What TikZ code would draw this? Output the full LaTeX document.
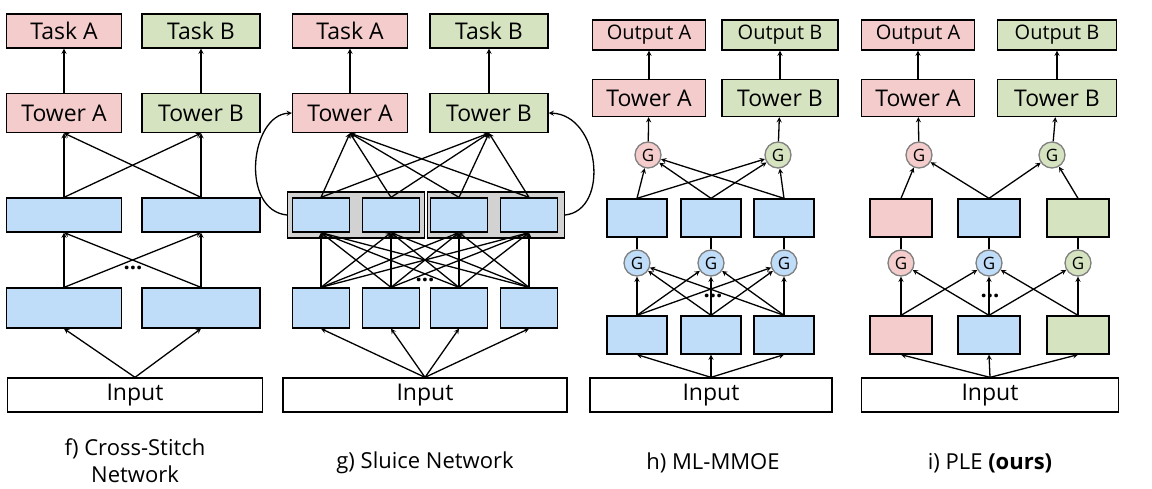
\documentclass[tikz,border=0pt]{standalone}
\usepackage{fontspec}
\setmainfont{Open Sans}
\usepackage{xcolor}
\usetikzlibrary{positioning}
\definecolor{redbox}{HTML}{F4CCCC}
\definecolor{greenbox}{HTML}{D5E3C0}
\definecolor{bluebox}{HTML}{BFDDF8}
\begin{document}
\begin{tikzpicture}[x=1pt, y=-1pt, >=stealth,
  thick/.style={line width=1.3pt},
  box/.style={draw, thick, inner sep=0pt, font=\fontsize{23}{25}\selectfont},
  gate/.style={circle, draw=gray, thick, inner sep=0pt, minimum size=26pt, font=\fontsize{17}{19}\selectfont},
  dots/.style={font=\fontsize{22}{22}\selectfont\bfseries},
  lbl/.style={font=\fontsize{22}{27}\selectfont, align=center}]
   \useasboundingbox (0,0) rectangle (1152,489);

   % f) Cross-Stitch
   \node[box, fill=redbox, minimum width=115, minimum height=34] (fTA) at (64,31) {Task A};
   \node[box, fill=greenbox, minimum width=118, minimum height=34] (fTB) at (201,31) {Task B};
   \node[box, fill=redbox, minimum width=115, minimum height=39] (fWA) at (64,113) {Tower A};
   \node[box, fill=greenbox, minimum width=118, minimum height=39] (fWB) at (201,113) {Tower B};
   \node[box, fill=bluebox, minimum width=115, minimum height=34] (fM1) at (64,215) {};
   \node[box, fill=bluebox, minimum width=118, minimum height=34] (fM2) at (201,215) {};
   \node[box, fill=bluebox, minimum width=115, minimum height=40] (fB1) at (64,308) {};
   \node[box, fill=bluebox, minimum width=118, minimum height=40] (fB2) at (201,308) {};
   \node[box, minimum width=255, minimum height=34] (fIn) at (135,395) {Input};
   \draw[->, thick] (fWA) -- (fTA);
   \draw[->, thick] (fWB) -- (fTB);
   \foreach \m in {fM1,fM2} \foreach \t in {fWA,fWB} \draw[->, thick] (\m.north) -- (\t.south);
   \foreach \m in {fB1,fB2} \foreach \t in {fM1,fM2} \draw[->, thick] (\m.north) -- (\t.south);
   \foreach \b in {fB1,fB2} \draw[->, thick] (fIn.north) -- (\b.south);
   \node[dots] (fDot) at (133,268) {...};
   \node[lbl] (fCap) at (135,461) {f) Cross-Stitch\\Network};

   % g) Sluice
   \node[box, fill=redbox, minimum width=115, minimum height=34] (gTA) at (350,31) {Task A};
   \node[box, fill=greenbox, minimum width=118, minimum height=34] (gTB) at (489,31) {Task B};
   \node[box, fill=redbox, minimum width=115, minimum height=39] (gWA) at (350,113) {Tower A};
   \node[box, fill=greenbox, minimum width=118, minimum height=39] (gWB) at (489,113) {Tower B};
   \node[draw, thick, fill=gray!35, minimum width=137, minimum height=46] (gG1) at (356,215) {};
   \node[draw, thick, fill=gray!35, minimum width=137, minimum height=46] (gG2) at (496,215) {};
   \foreach \i/\x in {1/321,2/391,3/459,4/529} {
     \node[box, fill=bluebox, minimum width=57, minimum height=34] (gM\i) at (\x,215) {};
     \node[box, fill=bluebox, minimum width=57, minimum height=40] (gB\i) at (\x,308) {};
   }
   \node[box, minimum width=284, minimum height=34] (gIn) at (425,395) {Input};
   \draw[->, thick] (gWA) -- (gTA);
   \draw[->, thick] (gWB) -- (gTB);
   \foreach \i in {1,...,4} {
     \foreach \t in {gWA,gWB} \draw[->, thick] (gM\i.north) -- (\t.south);
     \foreach \j in {1,...,4} \draw[->, thick] (gB\i.north) -- (gM\j.south);
     \draw[->, thick] (gIn.north) -- (gB\i.south);
   }
   \draw[->, thick] (gG1.west) .. controls (240,210) and (250,115) .. (gWA.west);
   \draw[->, thick] (gG2.east) .. controls (610,210) and (600,115) .. (gWB.east);
   \node[dots] (gDot) at (425,280) {...};
   \node[lbl] (gCap) at (425,463) {g) Sluice Network};

   % h) ML-MMOE
   \node[box, fill=redbox, minimum width=113, minimum height=30, font=\fontsize{20}{22}\selectfont] (hOA) at (649,35) {Output A};
   \node[box, fill=greenbox, minimum width=116, minimum height=30, font=\fontsize{20}{22}\selectfont] (hOB) at (780,35) {Output B};
   \node[box, fill=redbox, minimum width=113, minimum height=37] (hWA) at (649,98) {Tower A};
   \node[box, fill=greenbox, minimum width=116, minimum height=37] (hWB) at (780,98) {Tower B};
   \node[gate, fill=redbox] (hGA) at (648,155) {G};
   \node[gate, fill=greenbox] (hGB) at (778,155) {G};
   \foreach \i/\x in {1/637,2/711,3/784} {
     \node[box, fill=bluebox, minimum width=60, minimum height=38] (hM\i) at (\x,218) {};
     \node[gate, fill=bluebox] (hL\i) at (\x,263) {G};
     \node[box, fill=bluebox, minimum width=60, minimum height=38] (hB\i) at (\x,335) {};
   }
   \node[box, minimum width=242, minimum height=34] (hIn) at (711,395) {Input};
   \draw[->, thick] (hWA) -- (hOA);
   \draw[->, thick] (hWB) -- (hOB);
   \draw[->, thick] (hGA) -- (hWA);
   \draw[->, thick] (hGB) -- (hWB);
   \foreach \i in {1,2,3} {
     \foreach \t in {hGA,hGB} \draw[->, thick] (hM\i.north) -- (\t);
     \draw[thick] (hL\i) -- (hM\i);
     \foreach \j in {1,2,3} \draw[->, thick] (hB\i.north) -- (hL\j);
     \draw[->, thick] (hIn.north) -- (hB\i.south);
   }
   \node[dots] (hDot) at (713,296) {...};
   \node[lbl] (hCap) at (713,463) {h) ML-MMOE};

   % i) PLE
   \node[box, fill=redbox, minimum width=113, minimum height=30, font=\fontsize{20}{22}\selectfont] (iOA) at (918,35) {Output A};
   \node[box, fill=greenbox, minimum width=119, minimum height=30, font=\fontsize{20}{22}\selectfont] (iOB) at (1057,35) {Output B};
   \node[box, fill=redbox, minimum width=113, minimum height=37] (iWA) at (918,98) {Tower A};
   \node[box, fill=greenbox, minimum width=119, minimum height=37] (iWB) at (1057,98) {Tower B};
   \node[gate, fill=redbox] (iGA) at (919,155) {G};
   \node[gate, fill=greenbox] (iGB) at (1052,155) {G};
   \node[box, minimum width=257, minimum height=34] (iIn) at (990,395) {Input};
   \foreach \i/\x/\c in {1/901/redbox,2/989/bluebox,3/1078/greenbox} {
     \node[box, fill=\c, minimum width=62, minimum height=38] (iM\i) at (\x,218) {};
     \node[gate, fill=\c] (iL\i) at (\x,263) {G};
     \node[box, fill=\c, minimum width=62, minimum height=38] (iB\i) at (\x,335) {};
     \draw[thick] (iL\i) -- (iM\i);
     \draw[->, thick] (iIn.north) -- (iB\i.south);
   }
   \draw[->, thick] (iWA) -- (iOA);
   \draw[->, thick] (iWB) -- (iOB);
   \draw[->, thick] (iGA) -- (iWA);
   \draw[->, thick] (iGB) -- (iWB);
   \foreach \m/\g in {iM1/iGA,iM2/iGA,iM2/iGB,iM3/iGB,iB1/iL1,iB2/iL1,iB1/iL2,iB2/iL2,iB3/iL2,iB2/iL3,iB3/iL3}
     \draw[->, thick] (\m.north) -- (\g);
   \node[dots] (iDot) at (990,296) {...};
   \node[lbl] (iCap) at (990,463) {i) PLE \textbf{(ours)}};
\end{tikzpicture}
\end{document}
